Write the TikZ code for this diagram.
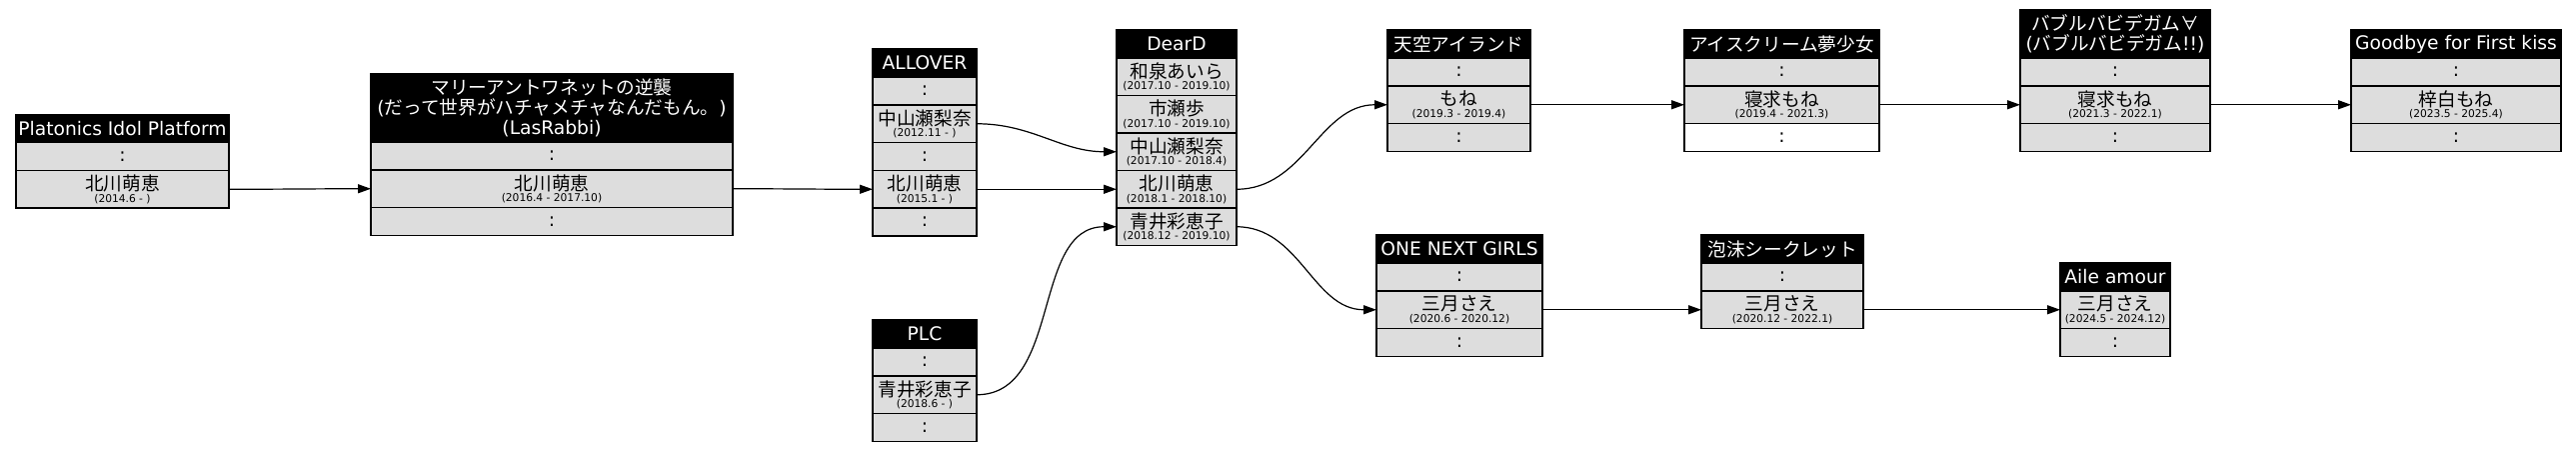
\documentclass[tikz,border=0pt]{standalone}
\usepackage{fontspec}
\setmainfont{DejaVu Sans}
\newfontfamily\jp{Noto Sans CJK JP}
\usepackage{tikz}
\usetikzlibrary{positioning,arrows.meta}
\definecolor{rowgray}{HTML}{DDDDDD}

% name on top, period below
\newcommand{\mem}[2]{{\jp\fontsize{18.67}{18.67}\selectfont #1}\\[0.5pt]#2}

\begin{document}
\begin{tikzpicture}[
    x=1pt, y=-1pt,
    node distance=0pt,
    cell/.style={rectangle, draw=black, line width=1.1pt, inner sep=0pt, outer sep=0pt, align=center},
    head/.style={cell, fill=black, text=white, font=\fontsize{18.67}{20}\selectfont, minimum height=28pt},
    dots/.style={cell, fill=rowgray, font=\fontsize{18.67}{20}\selectfont, minimum height=28pt},
    member/.style={cell, fill=rowgray, font=\fontsize{10.67}{11}\selectfont, minimum height=37.5pt},
    link/.style={-{Triangle[length=13pt,width=9pt]}, line width=1.2pt}
]
\useasboundingbox (0,0) rectangle (2577,451);

% Platonics Idol Platform
\begin{scope}[nodes={minimum width=213pt}]
\node[head, anchor=north west] (pip) at (16,114.5) {Platonics Idol Platform};
\node[dots, below=of pip] (pipdots) {:};
\node[member, below=of pipdots] (pipkita) {\mem{北川萌恵}{(2014.6 - )}};
\end{scope}

% Marie Antoinette
\begin{scope}[nodes={minimum width=362pt}]
\node[head, anchor=north west, minimum height=68pt] (marie) at (371,74)
    {{\jp マリーアントワネットの逆襲}\\({\jp だって世界がハチャメチャなんだもん。})\\(LasRabbi)};
\node[dots, below=of marie] (mariedots) {:};
\node[member, below=of mariedots] (mariekita) {\mem{北川萌恵}{(2016.4 - 2017.10)}};
\node[dots, below=of mariekita] (mariedotsb) {:};
\end{scope}

% ALLOVER
\begin{scope}[nodes={minimum width=104pt}]
\node[head, anchor=north west] (allover) at (873,49) {ALLOVER};
\node[dots, below=of allover] (alloverdots) {:};
\node[member, below=of alloverdots] (allovernaka) {\mem{中山瀬梨奈}{(2012.11 - )}};
\node[dots, below=of allovernaka] (alloverdotsb) {:};
\node[member, below=of alloverdotsb] (alloverkita) {\mem{北川萌恵}{(2015.1 - )}};
\node[dots, below=of alloverkita] (alloverdotsc) {:};
\end{scope}

% PLC
\begin{scope}[nodes={minimum width=104pt}]
\node[head, anchor=north west] (plc) at (873,320) {PLC};
\node[dots, below=of plc] (plcdots) {:};
\node[member, below=of plcdots] (plcaoi) {\mem{青井彩恵子}{(2018.6 - )}};
\node[dots, below=of plcaoi] (plcdotsb) {:};
\end{scope}

% DearD
\begin{scope}[nodes={minimum width=120pt}]
\node[head, anchor=north west] (deard) at (1117,30) {DearD};
\node[member, below=of deard] (deardizumi) {\mem{和泉あいら}{(2017.10 - 2019.10)}};
\node[member, below=of deardizumi] (deardichise) {\mem{市瀬歩}{(2017.10 - 2019.10)}};
\node[member, below=of deardichise] (deardnaka) {\mem{中山瀬梨奈}{(2017.10 - 2018.4)}};
\node[member, below=of deardnaka] (deardkita) {\mem{北川萌恵}{(2018.1 - 2018.10)}};
\node[member, below=of deardkita] (deardaoi) {\mem{青井彩恵子}{(2018.12 - 2019.10)}};
\end{scope}

% upper line
\begin{scope}[nodes={minimum width=143pt}]
\node[head, anchor=north west] (tenku) at (1388,30) {\jp 天空アイランド};
\node[dots, below=of tenku] (tenkudots) {:};
\node[member, below=of tenkudots] (tenkumone) {\mem{もね}{(2019.3 - 2019.4)}};
\node[dots, below=of tenkumone] (tenkudotsb) {:};
\end{scope}

\begin{scope}[nodes={minimum width=195pt}]
\node[head, anchor=north west] (icecream) at (1685,30) {\jp アイスクリーム夢少女};
\node[dots, below=of icecream] (icecreamdots) {:};
\node[member, below=of icecreamdots] (icecreammone) {\mem{寝求もね}{(2019.4 - 2021.3)}};
\node[dots, fill=white, below=of icecreammone] (icecreamdotsb) {:};
\end{scope}

\begin{scope}[nodes={minimum width=190pt}]
\node[head, anchor=north west, minimum height=48pt] (bubble) at (2021,10)
    {{\jp バブルバビデガム∀}\\({\jp バブルバビデガム}!!)};
\node[dots, below=of bubble] (bubbledots) {:};
\node[member, below=of bubbledots] (bubblemone) {\mem{寝求もね}{(2021.3 - 2022.1)}};
\node[dots, below=of bubblemone] (bubbledotsb) {:};
\end{scope}

\begin{scope}[nodes={minimum width=210pt}]
\node[head, anchor=north west] (goodbye) at (2352,30) {Goodbye for First kiss};
\node[dots, below=of goodbye] (goodbyedots) {:};
\node[member, below=of goodbyedots] (goodbyemone) {\mem{梓白もね}{(2023.5 - 2025.4)}};
\node[dots, below=of goodbyemone] (goodbyedotsb) {:};
\end{scope}

% lower line
\begin{scope}[nodes={minimum width=166pt}]
\node[head, anchor=north west] (onenext) at (1377,235) {ONE NEXT GIRLS};
\node[dots, below=of onenext] (onenextdots) {:};
\node[member, below=of onenextdots] (onenextsae) {\mem{三月さえ}{(2020.6 - 2020.12)}};
\node[dots, below=of onenextsae] (onenextdotsb) {:};
\end{scope}

\begin{scope}[nodes={minimum width=162pt}]
\node[head, anchor=north west] (houmatsu) at (1702,235) {\jp 泡沫シークレット};
\node[dots, below=of houmatsu] (houmatsudots) {:};
\node[member, below=of houmatsudots] (houmatsusae) {\mem{三月さえ}{(2020.12 - 2022.1)}};
\end{scope}

\begin{scope}[nodes={minimum width=110pt}]
\node[head, anchor=north west] (aile) at (2061,263) {Aile amour};
\node[member, below=of aile] (ailesae) {\mem{三月さえ}{(2024.5 - 2024.12)}};
\node[dots, below=of ailesae] (ailedots) {:};
\end{scope}

% Arrows
\draw[link] (pipkita.east) to[out=0,in=180] (mariekita.west);
\draw[link] (mariekita.east) to[out=0,in=180] (alloverkita.west);
\draw[link] (allovernaka.east) to[out=0,in=180] (deardnaka.west);
\draw[link] (alloverkita.east) to[out=0,in=180] (deardkita.west);
\draw[link] (plcaoi.east) to[out=0,in=180] (deardaoi.west);
\draw[link] (deardkita.east) to[out=0,in=180] (tenkumone.west);
\draw[link] (deardaoi.east) to[out=0,in=180] (onenextsae.west);
\draw[link] (tenkumone.east) to[out=0,in=180] (icecreammone.west);
\draw[link] (icecreammone.east) to[out=0,in=180] (bubblemone.west);
\draw[link] (bubblemone.east) to[out=0,in=180] (goodbyemone.west);
\draw[link] (onenextsae.east) to[out=0,in=180] (houmatsusae.west);
\draw[link] (houmatsusae.east) to[out=0,in=180] (ailesae.west);

\end{tikzpicture}
\end{document}
